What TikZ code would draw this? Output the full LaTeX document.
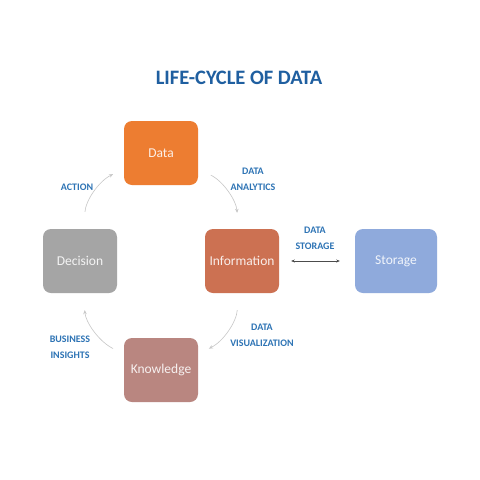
\documentclass[tikz,border=0pt]{standalone}
\usepackage{fontspec}
\setmainfont{Carlito}
\usetikzlibrary{arrows.meta}
\definecolor{datacol}{HTML}{ED7D31}
\definecolor{infocol}{HTML}{CC7152}
\definecolor{storecol}{HTML}{8FAADC}
\definecolor{deccol}{HTML}{A5A5A5}
\definecolor{knowcol}{HTML}{B98680}
\definecolor{labcol}{HTML}{2E74B5}
\definecolor{titlecol}{HTML}{1F5FA0}
\tikzset{stage/.style={rounded corners=8pt, minimum width=74pt, minimum height=64pt,
    text=white, text opacity=0.88, font=\fontsize{13.5}{15}\selectfont},
  steplabel/.style={text=labcol, font=\bfseries\fontsize{10}{16}\selectfont, align=center},
  cyc/.style={draw=black!22, line width=0.6pt, -{Stealth[length=4pt,width=3.5pt]}},
  link/.style={draw=black!70, line width=0.6pt, {Stealth[length=3.5pt,width=3pt]}-{Stealth[length=3.5pt,width=3pt]}}
}
\begin{document}
\begin{tikzpicture}[x=1pt,y=-1pt]
  \useasboundingbox[fill=white] (0,0) rectangle (480,480);
  \node[text=titlecol, font=\bfseries\fontsize{20.5}{24}\selectfont] (title) at (239,78) {LIFE-CYCLE OF DATA};
  \node[stage, fill=datacol] (data) at (161,153) {Data};
  \node[stage, fill=infocol] (info) at (242,261) {Information};
  \node[stage, fill=storecol, minimum width=82pt] (store) at (396,261) {Storage};
  \node[stage, fill=deccol] (dec) at (80,261) {Decision};
  \node[stage, fill=knowcol] (know) at (161,370) {Knowledge};
  % cycle
  \draw[cyc, shorten <=17pt, shorten >=12pt] (dec) to[bend left=30] (data);
  \draw[cyc, shorten <=14pt, shorten >=16pt] (data) to[bend left=30] (info);
  \draw[cyc, shorten <=17pt, shorten >=12pt] (info) to[bend left=30] (know);
  \draw[cyc, shorten <=12pt, shorten >=17pt] (know) to[bend left=30] (dec);
  \draw[link, shorten <=12pt, shorten >=15pt] (info.east) -- (store.west);
  % labels
  \node[steplabel] (action) at (77,187) {ACTION};
  \node[steplabel] (analytics) at (253,179) {DATA\\ANALYTICS};
  \node[steplabel] (storage) at (315,238) {DATA\\STORAGE};
  \node[steplabel] (insights) at (70,347) {BUSINESS\\INSIGHTS};
  \node[steplabel] (visual) at (262,335) {DATA\\VISUALIZATION};
\end{tikzpicture}
\end{document}
